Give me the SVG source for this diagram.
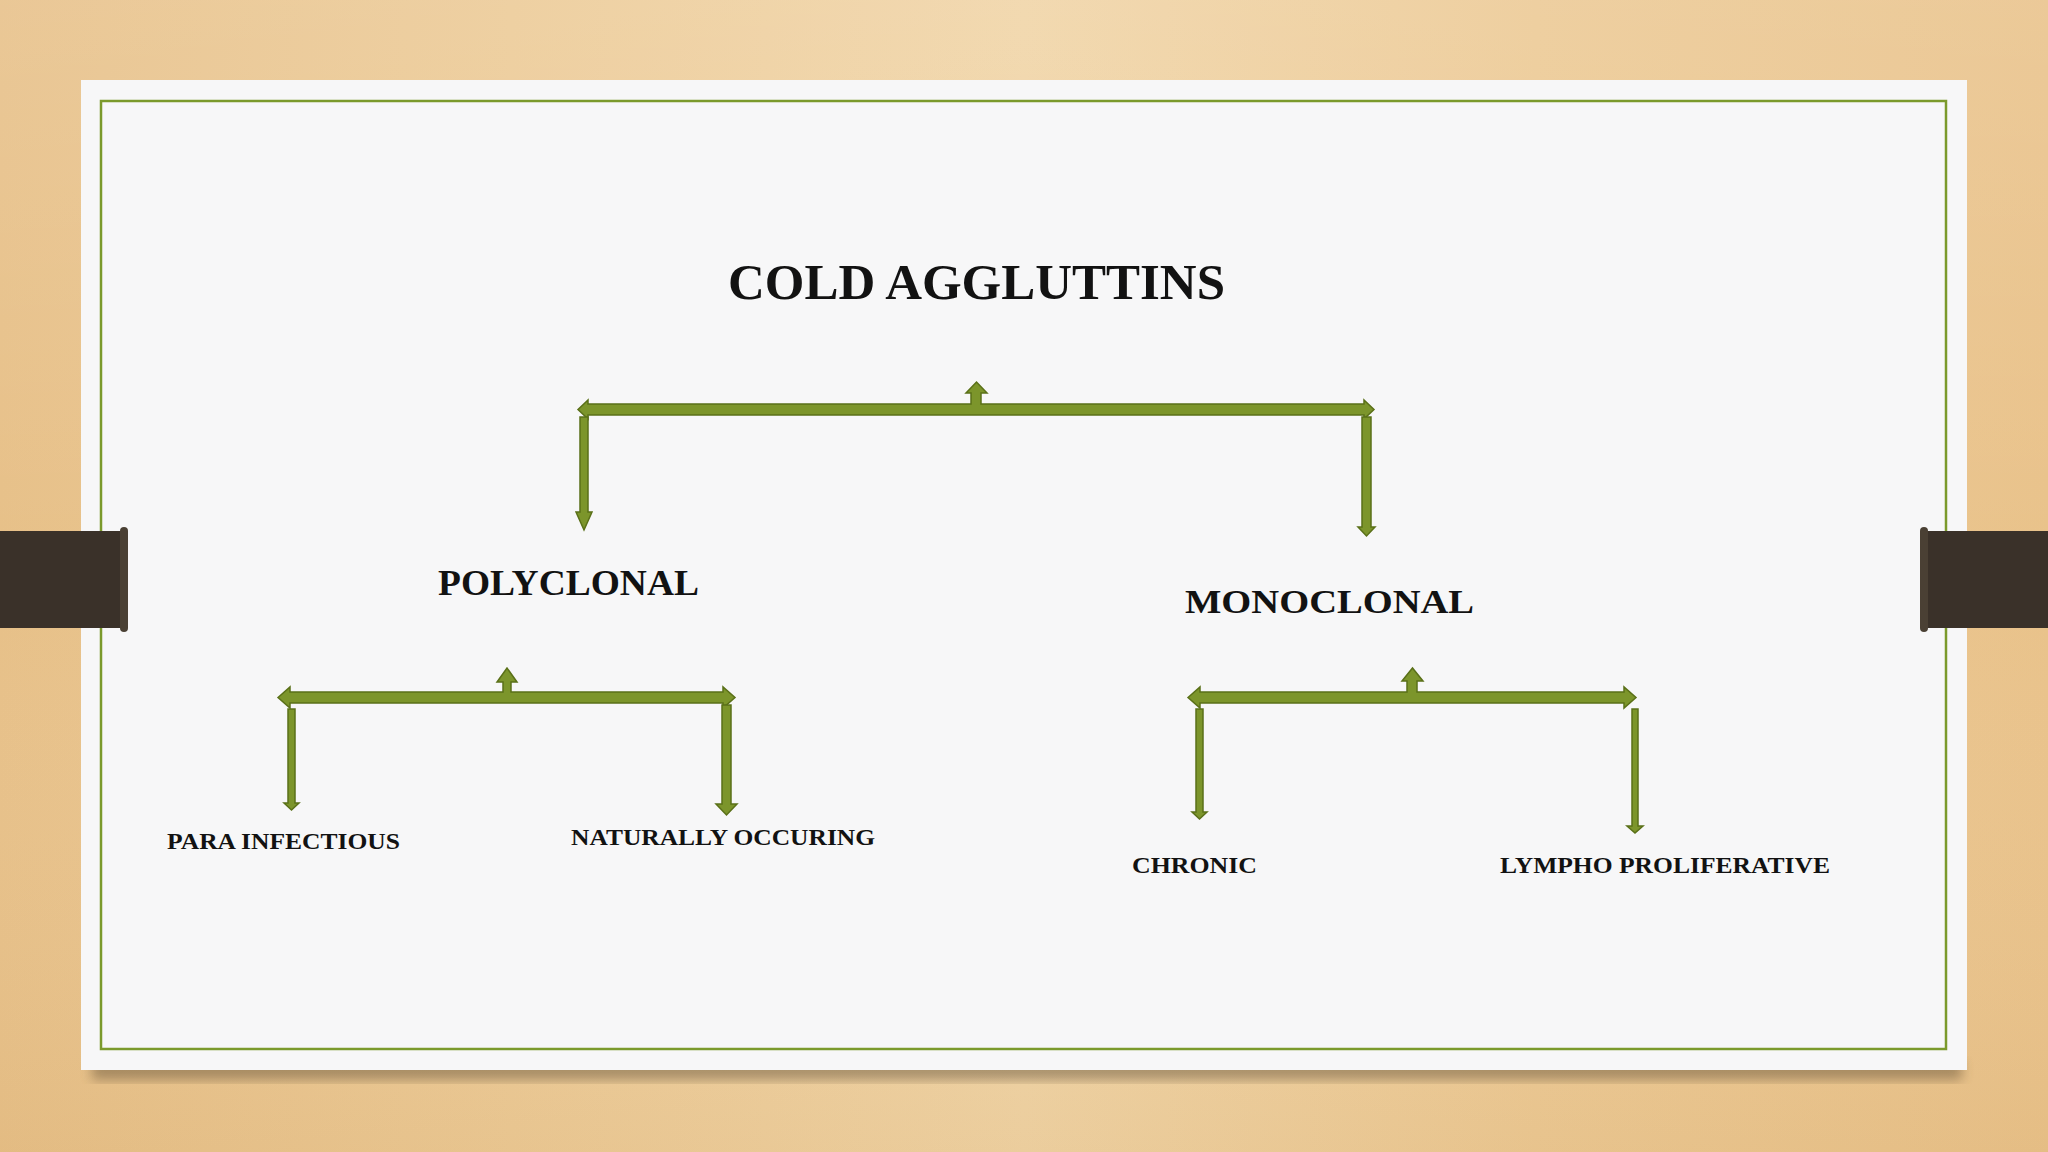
<svg xmlns="http://www.w3.org/2000/svg" width="2048" height="1152" viewBox="0 0 2048 1152">
  <defs>
    <linearGradient id="wood" x1="0" y1="0" x2="1" y2="0">
      <stop offset="0" stop-color="#e7c088"/>
      <stop offset="0.25" stop-color="#ecca96"/>
      <stop offset="0.5" stop-color="#f0d4a6"/>
      <stop offset="0.75" stop-color="#ecc994"/>
      <stop offset="1" stop-color="#e9c28a"/>
    </linearGradient>
    <linearGradient id="woodV" x1="0" y1="0" x2="0" y2="1">
      <stop offset="0" stop-color="#ffffff" stop-opacity="0.12"/>
      <stop offset="0.5" stop-color="#ffffff" stop-opacity="0"/>
      <stop offset="1" stop-color="#c89a5a" stop-opacity="0.12"/>
    </linearGradient>
    <filter id="blur" x="-5%" y="-20%" width="110%" height="140%">
      <feGaussianBlur stdDeviation="6"/>
    </filter>
    <style>
      .lbl { font-family: "Liberation Serif", "Times New Roman", serif; font-weight: bold; fill: #121212; }
      .arrow { fill: #7c952b; stroke: #5a7018; stroke-width: 1.5; stroke-linejoin: miter; }
      .tab { fill: #3a3129; }
    </style>
  </defs>

  <!-- background -->
  <rect x="0" y="0" width="2048" height="1152" fill="url(#wood)"/>
  <rect x="0" y="0" width="2048" height="1152" fill="url(#woodV)"/>

  <!-- card -->
  <rect x="92" y="1060" width="1870" height="20" fill="#5a4a30" opacity="0.45" filter="url(#blur)"/>
  <rect x="81" y="80" width="1886" height="990" fill="#f7f7f8"/>
  <rect x="101" y="101" width="1845" height="948" fill="none" stroke="#7b9a2c" stroke-width="2.5"/>

  <!-- tabs -->
  <g id="tab-left">
    <rect class="tab" x="0" y="531" width="127" height="97"/>
    <rect x="120" y="527" width="8" height="105" rx="4" fill="#4a4034"/>
  </g>
  <g id="tab-right">
    <rect class="tab" x="1921" y="531" width="127" height="97"/>
    <rect x="1920" y="527" width="8" height="105" rx="4" fill="#4a4034"/>
  </g>

  <!-- connectors -->
  <g id="connectors">
    <path class="arrow" d="M578,409.5 L588,400 L588,404 L971,404 L971,393 L966,393 L976.5,382 L987,393 L981,393 L981,404 L1364,404 L1364,400 L1374,409.5 L1364,419 L1364,415 L588,415 L588,419 Z"/>
    <path class="arrow" d="M580,417 L588,417 L588,512 L592,512 L584,530 L576,512 L580,512 Z"/>
    <path class="arrow" d="M1362,417 L1371,417 L1371,527 L1375,527 L1366.5,536 L1358,527 L1362,527 Z"/>

    <path class="arrow" d="M278,697.5 L290,687 L290,692 L503,692 L503,682 L497,682 L507,668 L517,682 L511,682 L511,692 L723,692 L723,687 L735,697.5 L723,708 L723,703 L290,703 L290,708 Z"/>
    <path class="arrow" d="M288,709 L295,709 L295,803 L299,803 L291.5,810 L284,803 L288,803 Z"/>
    <path class="arrow" d="M722,705 L731,705 L731,804 L737,804 L726.5,815 L716,804 L722,804 Z"/>

    <path class="arrow" d="M1188,697.5 L1200,687 L1200,692 L1407,692 L1407,681 L1402,681 L1412.5,668 L1423,681 L1417,681 L1417,692 L1624,692 L1624,687 L1636,697.5 L1624,708 L1624,703 L1200,703 L1200,708 Z"/>
    <path class="arrow" d="M1196,709 L1203,709 L1203,812 L1207,812 L1199.5,819 L1192,812 L1196,812 Z"/>
    <path class="arrow" d="M1632,709 L1638,709 L1638,826 L1643,826 L1635,833 L1627,826 L1632,826 Z"/>
  </g>

  <!-- nodes -->
  <g id="node-root">
    <text class="lbl" x="728" y="299" font-size="51" textLength="497" lengthAdjust="spacingAndGlyphs">COLD AGGLUTTINS</text>
  </g>
  <g id="node-polyclonal">
    <text class="lbl" x="438" y="595" font-size="35" textLength="261" lengthAdjust="spacingAndGlyphs">POLYCLONAL</text>
  </g>
  <g id="node-monoclonal">
    <text class="lbl" x="1185" y="613" font-size="34" textLength="289" lengthAdjust="spacingAndGlyphs">MONOCLONAL</text>
  </g>
  <g id="node-para">
    <text class="lbl" x="167" y="849" font-size="24" textLength="233" lengthAdjust="spacingAndGlyphs">PARA INFECTIOUS</text>
  </g>
  <g id="node-naturally">
    <text class="lbl" x="571" y="845" font-size="24" textLength="304" lengthAdjust="spacingAndGlyphs">NATURALLY OCCURING</text>
  </g>
  <g id="node-chronic">
    <text class="lbl" x="1132" y="873" font-size="24" textLength="125" lengthAdjust="spacingAndGlyphs">CHRONIC</text>
  </g>
  <g id="node-lympho">
    <text class="lbl" x="1500" y="873" font-size="24" textLength="330" lengthAdjust="spacingAndGlyphs">LYMPHO PROLIFERATIVE</text>
  </g>
</svg>
